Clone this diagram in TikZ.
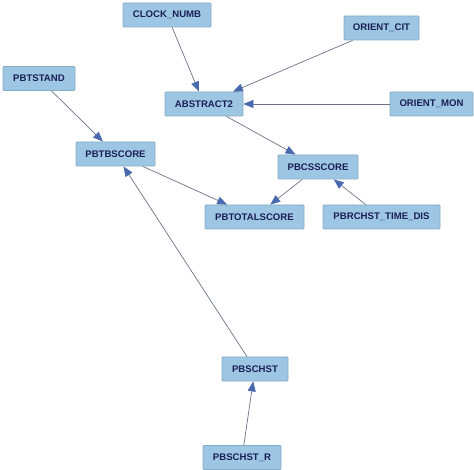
\documentclass[tikz,border=0pt]{standalone}
\usepackage{fontspec}
\setmainfont{Liberation Sans}
\usetikzlibrary{arrows.meta}
\definecolor{boxfill}{HTML}{9DC6E3}
\definecolor{boxline}{HTML}{86ABC8}
\definecolor{boxtext}{HTML}{1A1F55}
\definecolor{edgeline}{HTML}{6A7486}
\definecolor{tipblue}{HTML}{4A6AB0}
\tikzset{
  box/.style={draw=boxline, fill=boxfill, text=boxtext, font=\bfseries\fontsize{9.6}{11}\selectfont,
    inner sep=0pt, minimum height=24pt, rounded corners=1pt, line width=0.8pt},
  link/.style={draw=edgeline, line width=0.7pt,
    -{Triangle[length=10pt,width=8pt,color=tipblue,fill=tipblue]}}
}
\begin{document}
\begin{tikzpicture}[x=1pt,y=-1pt]
\useasboundingbox (0,0) rectangle (474,470);
\fill[white] (0,0) rectangle (474,470);
\node[box, minimum width=88pt] (clock) at (167,15) {CLOCK\_NUMB};
\node[box, minimum width=75pt] (ocit) at (381.5,28) {ORIENT\_CIT};
\node[box, minimum width=72pt] (pbtstand) at (39,78.5) {PBTSTAND};
\node[box, minimum width=78pt] (abs) at (204,104) {ABSTRACT2};
\node[box, minimum width=83pt] (omon) at (431.5,104) {ORIENT\_MON};
\node[box, minimum width=79pt] (pbtb) at (115.5,154) {PBTBSCORE};
\node[box, minimum width=80pt] (pbcs) at (318,167) {PBCSSCORE};
\node[box, minimum width=99pt] (total) at (254.5,217) {PBTOTALSCORE};
\node[box, minimum width=117pt] (rchst) at (381.5,217) {PBRCHST\_TIME\_DIS};
\node[box, minimum width=66pt] (schst) at (255,369) {PBSCHST};
\node[box, minimum width=78pt] (schstr) at (242,457.5) {PBSCHST\_R};
\draw[link] (clock) -- (abs);
\draw[link] (ocit) -- (abs);
\draw[link] (omon) -- (abs);
\draw[link] (pbtstand) -- (pbtb);
\draw[link] (abs) -- (pbcs);
\draw[link] (pbtb) -- (total);
\draw[link] (pbcs) -- (total);
\draw[link] (rchst) -- (pbcs);
\draw[link] (schst) -- (pbtb);
\draw[link] (schstr) -- (schst);
\end{tikzpicture}
\end{document}
